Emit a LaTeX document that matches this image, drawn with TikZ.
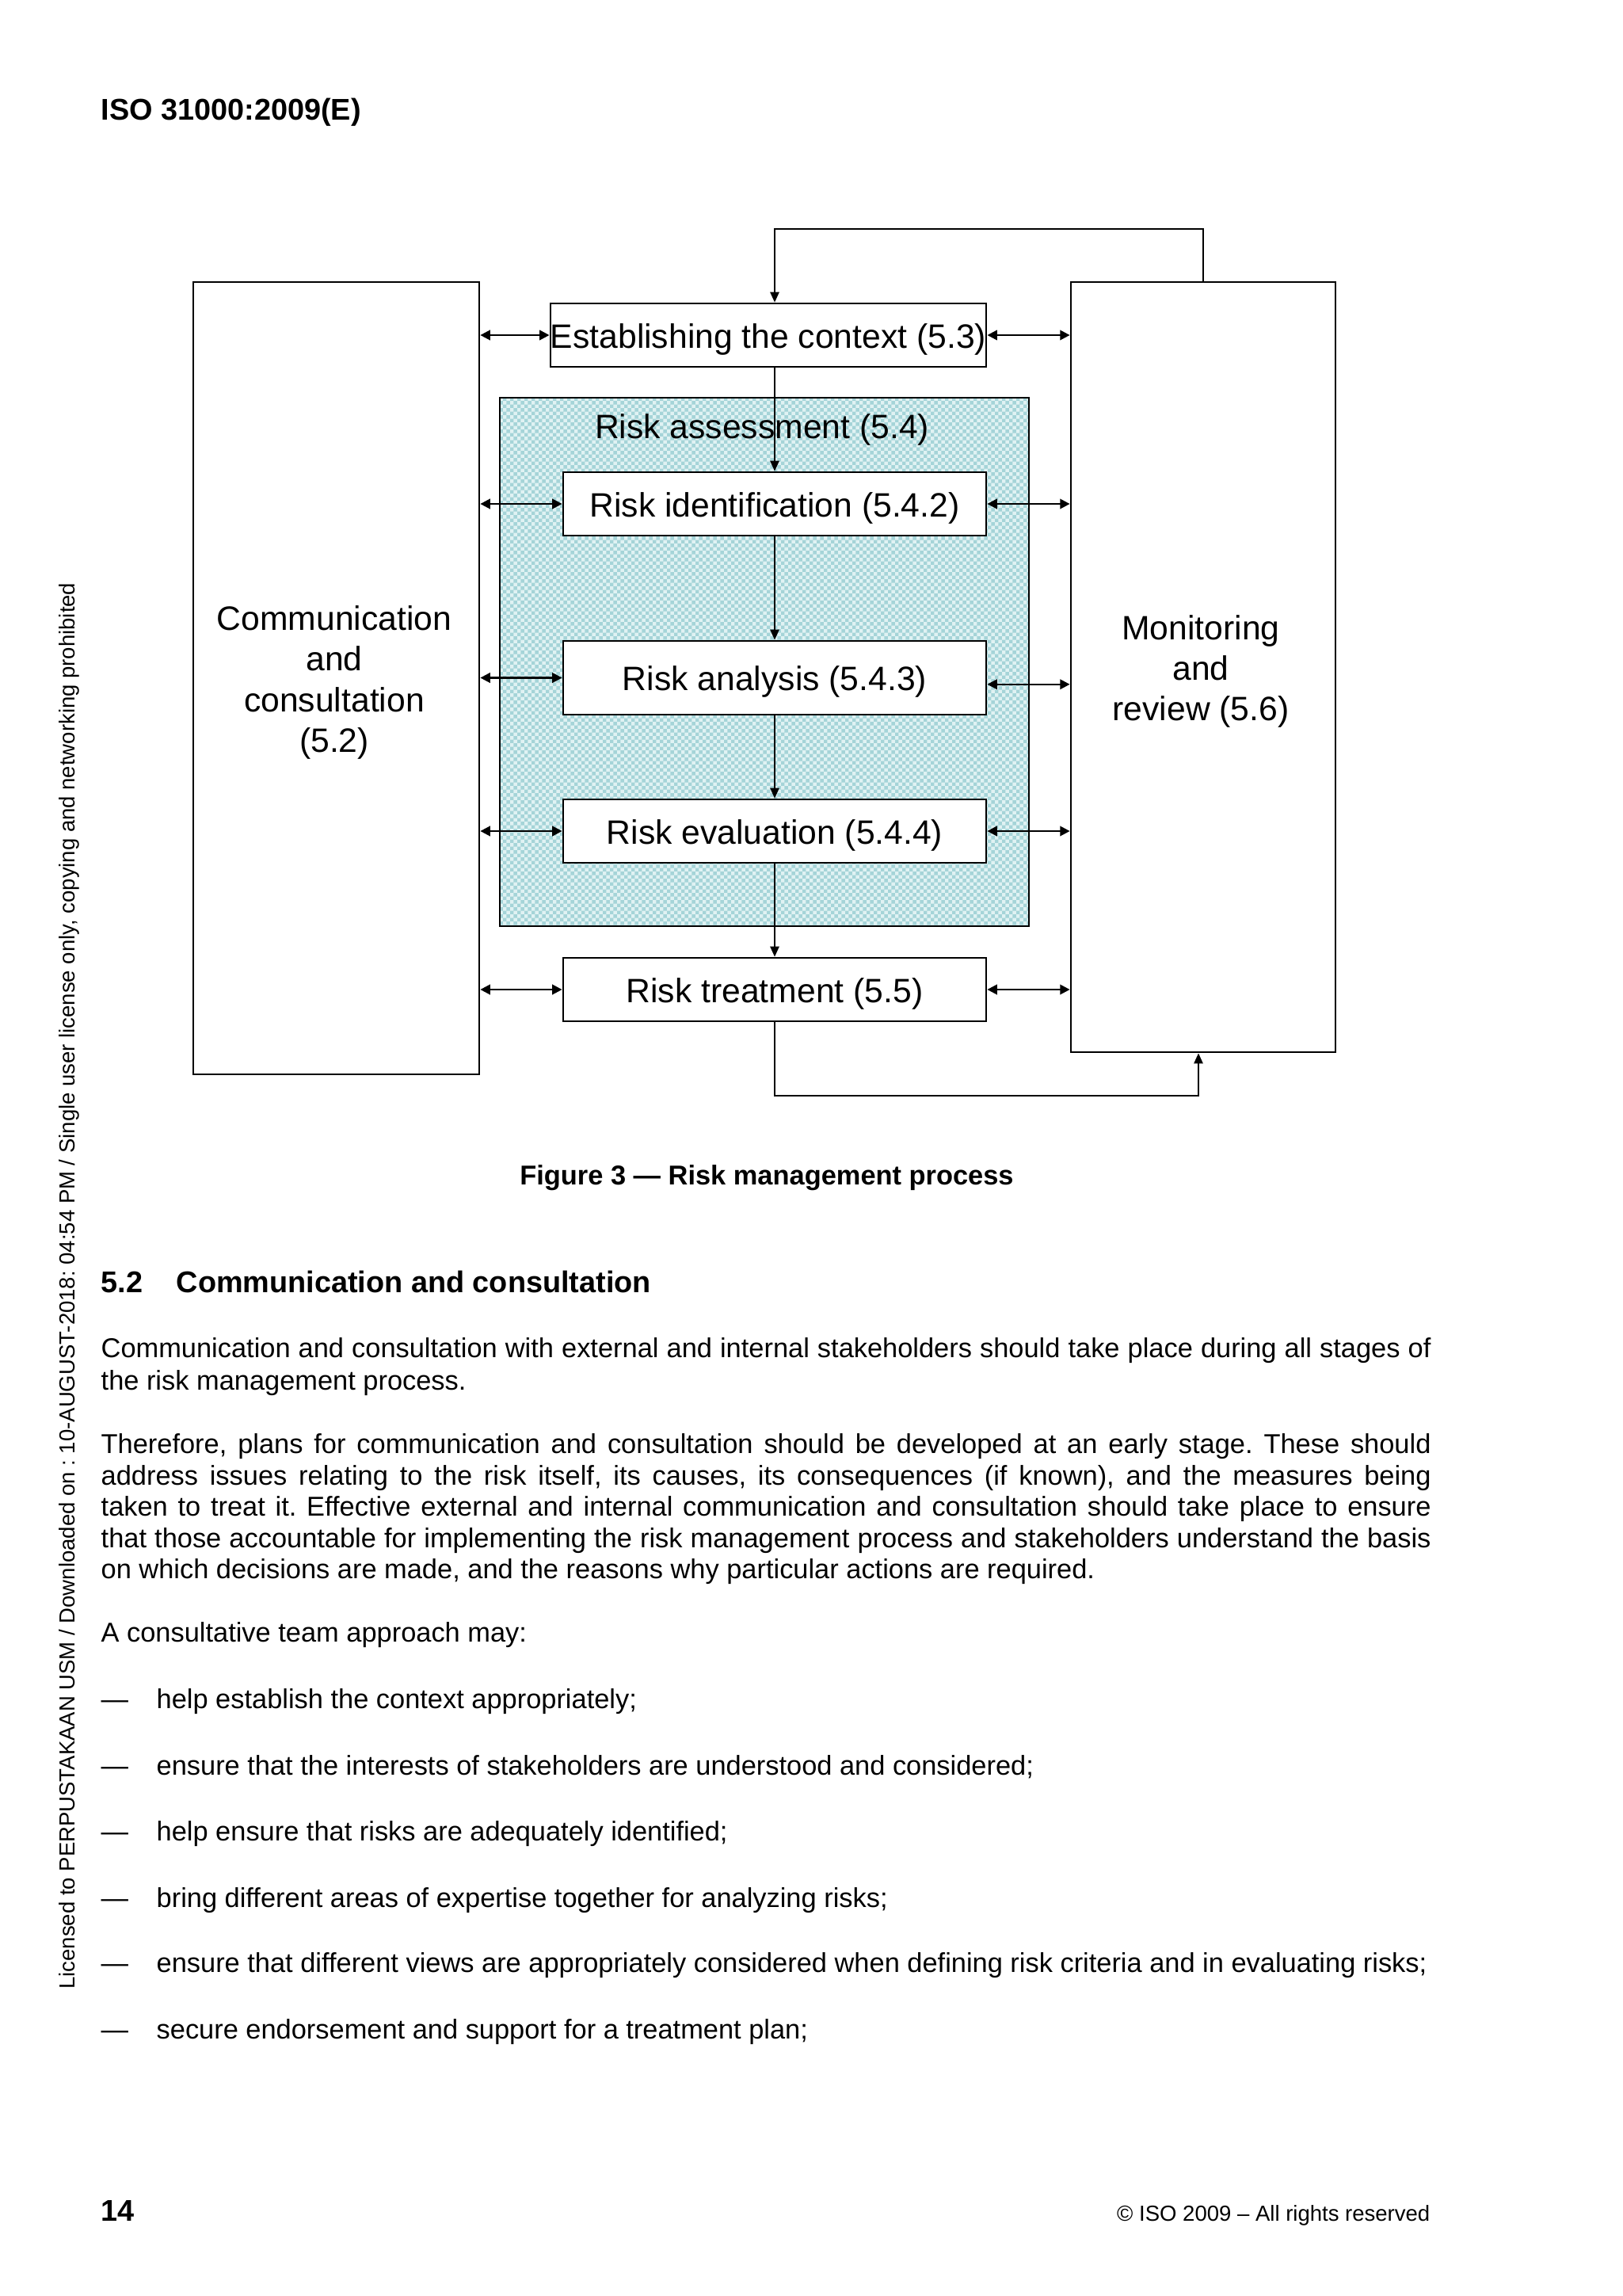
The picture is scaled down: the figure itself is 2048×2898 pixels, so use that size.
\documentclass[tikz,border=0pt]{standalone}
\usepackage{fontspec}
\setmainfont{Liberation Sans}
\setsansfont{Liberation Sans}
\usetikzlibrary{arrows.meta,patterns.meta}
\newlength\pxlen \setlength\pxlen{0.29067pt}
\definecolor{ckLight}{RGB}{224,242,243}
\definecolor{ckDark}{RGB}{165,212,216}
\pgfdeclarepattern{
  name=isochecker,
  type=uncolored,
  bottom left={\pgfpointorigin},
  top right={\pgfqpoint{2.6pt}{2.6pt}},
  tile size={\pgfqpoint{2.6pt}{2.6pt}},
  code={
    \pgfpathrectangle{\pgfpointorigin}{\pgfqpoint{1.3pt}{1.3pt}}
    \pgfpathrectangle{\pgfqpoint{1.3pt}{1.3pt}}{\pgfqpoint{1.3pt}{1.3pt}}
    \pgfusepath{fill}
  }
}
\newcommand\diagfont{\fontsize{12.4}{14.9}\selectfont}
\newcommand\bodyfont{\fontsize{10}{12}\selectfont}
\frenchspacing
\begin{document}
\begin{tikzpicture}[x=0.29067pt,y=-0.29067pt,
  box/.style={draw, line width=0.8pt, fill=white, inner sep=0pt, align=center, font=\diagfont},
  boxtext/.style={text height=11.9pt, text depth=2.6pt},
  bigtext/.style={inner sep=0pt, align=center, font=\diagfont},
  conn/.style={line width=0.55pt},
  dconn/.style={line width=0.7pt},
  onetip/.style={-{Triangle[length=3.8pt,width=3.3pt]}},
  twotip/.style={{Triangle[length=3.6pt,width=3.6pt]}-{Triangle[length=3.6pt,width=3.6pt]}},
  bodyline/.style={anchor=base west, inner sep=0pt, font=\bodyfont},
]
\fill[white] (0,0) rectangle (2048,2898);
\useasboundingbox (0,0) rectangle (2048,2898);

% header
\node[anchor=base west, inner sep=0pt, font=\bfseries\fontsize{11}{13}\selectfont] (hdr) at (127,151) {ISO 31000:2009(E)};

% side text
\node[rotate=90, anchor=base, inner sep=0pt, font=\fontsize{8}{9.6}\selectfont] (side) at (95,1623)
  {Licensed to PERPUSTAKAAN USM / Downloaded on : 10-AUGUST-2018: 04:54 PM / Single user license only, copying and networking prohibited};

% ---------- diagram ----------
\node[box, minimum width=361\pxlen, minimum height=1000\pxlen] (comm) at (424.5,856) {};
\node[bigtext] (commtxt) at (422,861.5) {Communication\\and\\consultation\\(5.2)};
\node[box, minimum width=334\pxlen, minimum height=972\pxlen] (mon) at (1519,842) {};
\node[bigtext] (montxt) at (1516,847.5) {Monitoring\\and\\review (5.6)};

\node[draw, line width=0.8pt, inner sep=0pt, minimum width=668\pxlen, minimum height=667\pxlen,
      preaction={fill=ckLight}, pattern=isochecker, pattern color=ckDark] (ra) at (965,835.5) {};
\node[anchor=base, inner sep=0pt, font=\diagfont] (ralabel) at (962,553) {Risk assessment (5.4)};

\node[box, boxtext, minimum width=550\pxlen, minimum height=80\pxlen] (ctx) at (970,423) {Establishing the context (5.3)};
\node[box, boxtext, minimum width=534\pxlen, minimum height=80\pxlen] (rid) at (978,636) {Risk identification (5.4.2)};
\node[box, boxtext, minimum width=534\pxlen, minimum height=93\pxlen] (ran) at (978,855.5) {Risk analysis (5.4.3)};
\node[box, boxtext, minimum width=534\pxlen, minimum height=80\pxlen] (rev) at (978,1049) {Risk evaluation (5.4.4)};
\node[box, boxtext, minimum width=534\pxlen, minimum height=80\pxlen] (rtr) at (978,1249) {Risk treatment (5.5)};

\coordinate (loopTop) at (978,289);
\coordinate (loopEnd) at (1513,1383);

% vertical flow
\draw[conn, onetip] (mon.north) |- (loopTop) -- (loopTop |- ctx.north);
\draw[conn, onetip] (rid.north |- ctx.south) -- (rid.north);
\draw[conn, onetip] (rid.south) -- (ran.north);
\draw[conn, onetip] (ran.south) -- (rev.north);
\draw[conn, onetip] (rev.south) -- (rtr.north);
\draw[conn, onetip] (rtr.south) |- (loopEnd) -- (loopEnd |- mon.south);

% horizontal double arrows
\draw[dconn, twotip] (comm.east |- ctx.west) -- (ctx.west);
\draw[dconn, twotip] (ctx.east) -- (mon.west |- ctx.east);
\draw[dconn, twotip] (comm.east |- rid.west) -- (rid.west);
\draw[dconn, twotip] (rid.east) -- (mon.west |- rid.east);
\draw[dconn, twotip] (comm.east |- ran.west) -- (ran.west);
\draw[dconn, twotip] ([yshift=-2.4pt]ran.east) -- ([yshift=-2.4pt]mon.west |- ran.east);
\draw[dconn, twotip] (comm.east |- rev.west) -- (rev.west);
\draw[dconn, twotip] (rev.east) -- (mon.west |- rev.east);
\draw[dconn, twotip] (comm.east |- rtr.west) -- (rtr.west);
\draw[dconn, twotip] (rtr.east) -- (mon.west |- rtr.east);

% caption
\node[anchor=base, inner sep=0pt, font=\bfseries\fontsize{10}{12}\selectfont] (cap) at (968,1495)
  {Figure 3 — Risk management process};

% ---------- text ----------
\node[anchor=base west, inner sep=0pt, font=\bfseries\fontsize{11}{13}\selectfont] (hnum) at (127,1631) {5.2};
\node[anchor=base west, inner sep=0pt, font=\bfseries\fontsize{11}{13}\selectfont] (htitle) at (222,1631) {Communication and consultation};

\node[bodyline] (p1a) at (127,1713) {\makebox[1679\pxlen][s]{Communication and consultation with external and internal stakeholders should take place during all stages of}};
\node[bodyline] (p1b) at (127,1754) {the risk management process.};

\node[bodyline] (p2a) at (127,1834.5) {\makebox[1679\pxlen][s]{Therefore, plans for communication and consultation should be developed at an early stage. These should}};
\node[bodyline] (p2b) at (127,1874) {\makebox[1679\pxlen][s]{address issues relating to the risk itself, its causes, its consequences (if known), and the measures being}};
\node[bodyline] (p2c) at (127,1913.5) {\makebox[1679\pxlen][s]{taken to treat it. Effective external and internal communication and consultation should take place to ensure}};
\node[bodyline] (p2d) at (127,1953) {\makebox[1679\pxlen][s]{that those accountable for implementing the risk management process and stakeholders understand the basis}};
\node[bodyline] (p2e) at (127,1992.5) {on which decisions are made, and the reasons why particular actions are required.};

\node[bodyline] (p3) at (127,2072) {A consultative team approach may:};

\node[bodyline] (d1) at (127,2156) {—};
\node[bodyline] (b1) at (197,2156) {help establish the context appropriately;};
\node[bodyline] (d2) at (127,2240) {—};
\node[bodyline] (b2) at (197,2240) {ensure that the interests of stakeholders are understood and considered;};
\node[bodyline] (d3) at (127,2323) {—};
\node[bodyline] (b3) at (197,2323) {help ensure that risks are adequately identified;};
\node[bodyline] (d4) at (127,2407) {—};
\node[bodyline] (b4) at (197,2407) {bring different areas of expertise together for analyzing risks;};
\node[bodyline] (d5) at (127,2489.5) {—};
\node[bodyline] (b5) at (197,2489.5) {ensure that different views are appropriately considered when defining risk criteria and in evaluating risks;};
\node[bodyline] (d6) at (127,2573.5) {—};
\node[bodyline] (b6) at (197,2573.5) {secure endorsement and support for a treatment plan;};

% footer
\node[anchor=base west, inner sep=0pt, font=\bfseries\fontsize{11}{13}\selectfont] (pgnum) at (127,2803) {14};
\node[anchor=base east, inner sep=0pt, font=\fontsize{8}{9.6}\selectfont] (copy) at (1806,2803) {© ISO 2009 – All rights reserved};
\end{tikzpicture}
\end{document}
